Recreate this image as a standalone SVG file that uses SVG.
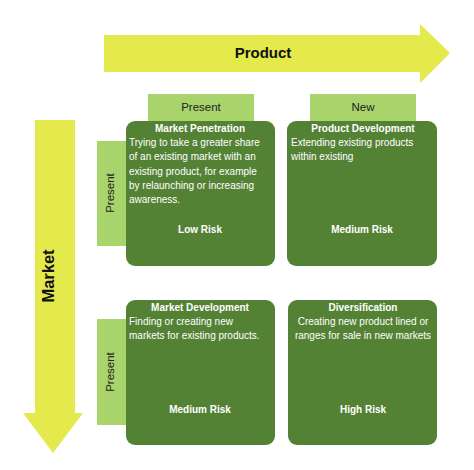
<svg xmlns="http://www.w3.org/2000/svg" width="474" height="470" viewBox="0 0 474 470">
<style>
.arrow{fill:#e4ea4c}
.hdr{fill:#a9d46c}
.card{fill:#548235}
.ax{font-family:"Liberation Sans",Arial,sans-serif;font-weight:bold;fill:#111}
.lbl{font-family:"Liberation Sans",Arial,sans-serif;font-size:11.5px;fill:#222;text-anchor:middle}
.t{font-family:"Liberation Sans",Arial,sans-serif;font-size:10px;font-weight:bold;fill:#fff;text-anchor:middle}
.b{font-family:"Liberation Sans",Arial,sans-serif;font-size:10px;fill:#fff}
</style>
<rect width="474" height="470" fill="#fff"/>
<g id="product-axis">
<polygon class="arrow" points="104,35 420,35 420,24 450,53 420,83 420,72 104,72"/>
<text class="ax" x="263" y="58" font-size="15" text-anchor="middle">Product</text>
</g>
<g id="market-axis">
<polygon class="arrow" points="35,120 75,120 75,413 83,413 53,453 23,413 35,413"/>
<text class="ax" font-size="16.5" text-anchor="middle" transform="translate(54,276) rotate(-90)">Market</text>
</g>
<g id="hdr-present-top">
<rect class="hdr" x="148" y="94" width="106" height="30"/>
<text class="lbl" x="201" y="111">Present</text>
</g>
<g id="hdr-new-top">
<rect class="hdr" x="310" y="94" width="106" height="30"/>
<text class="lbl" x="363" y="111">New</text>
</g>
<g id="hdr-present-left1">
<rect class="hdr" x="97" y="141" width="32" height="105"/>
<text class="lbl" transform="translate(114,193) rotate(-90)">Present</text>
</g>
<g id="hdr-present-left2">
<rect class="hdr" x="97" y="319" width="32" height="106"/>
<text class="lbl" transform="translate(114,372) rotate(-90)">Present</text>
</g>
<g id="connectors"></g>
<g id="market-penetration">
<rect class="card" x="126" y="121" width="149" height="145" rx="9"/>
<text class="t" x="200" y="132">Market Penetration</text>
<text class="b" x="129" y="146">Trying to take a greater share</text>
<text class="b" x="129" y="160">of an existing market with an</text>
<text class="b" x="129" y="175">existing product, for example</text>
<text class="b" x="129" y="189">by relaunching or increasing</text>
<text class="b" x="129" y="203">awareness.</text>
<text class="t" x="200" y="233">Low Risk</text>
</g>
<g id="product-development">
<rect class="card" x="287" y="121" width="150" height="145" rx="9"/>
<text class="t" x="363" y="132">Product Development</text>
<text class="b" x="291" y="146">Extending existing products</text>
<text class="b" x="291" y="160">within existing</text>
<text class="t" x="362" y="233">Medium Risk</text>
</g>
<g id="market-development">
<rect class="card" x="126" y="300" width="149" height="145" rx="9"/>
<text class="t" x="200" y="311">Market Development</text>
<text class="b" x="129" y="325">Finding or creating new</text>
<text class="b" x="129" y="339">markets for existing products.</text>
<text class="t" x="200" y="413">Medium Risk</text>
</g>
<g id="diversification">
<rect class="card" x="288" y="300" width="149" height="145" rx="9"/>
<text class="t" x="363" y="311">Diversification</text>
<text class="b" x="363" y="325" text-anchor="middle">Creating new product lined or</text>
<text class="b" x="363" y="339" text-anchor="middle">ranges for sale in new markets</text>
<text class="t" x="363" y="413">High Risk</text>
</g>
</svg>
